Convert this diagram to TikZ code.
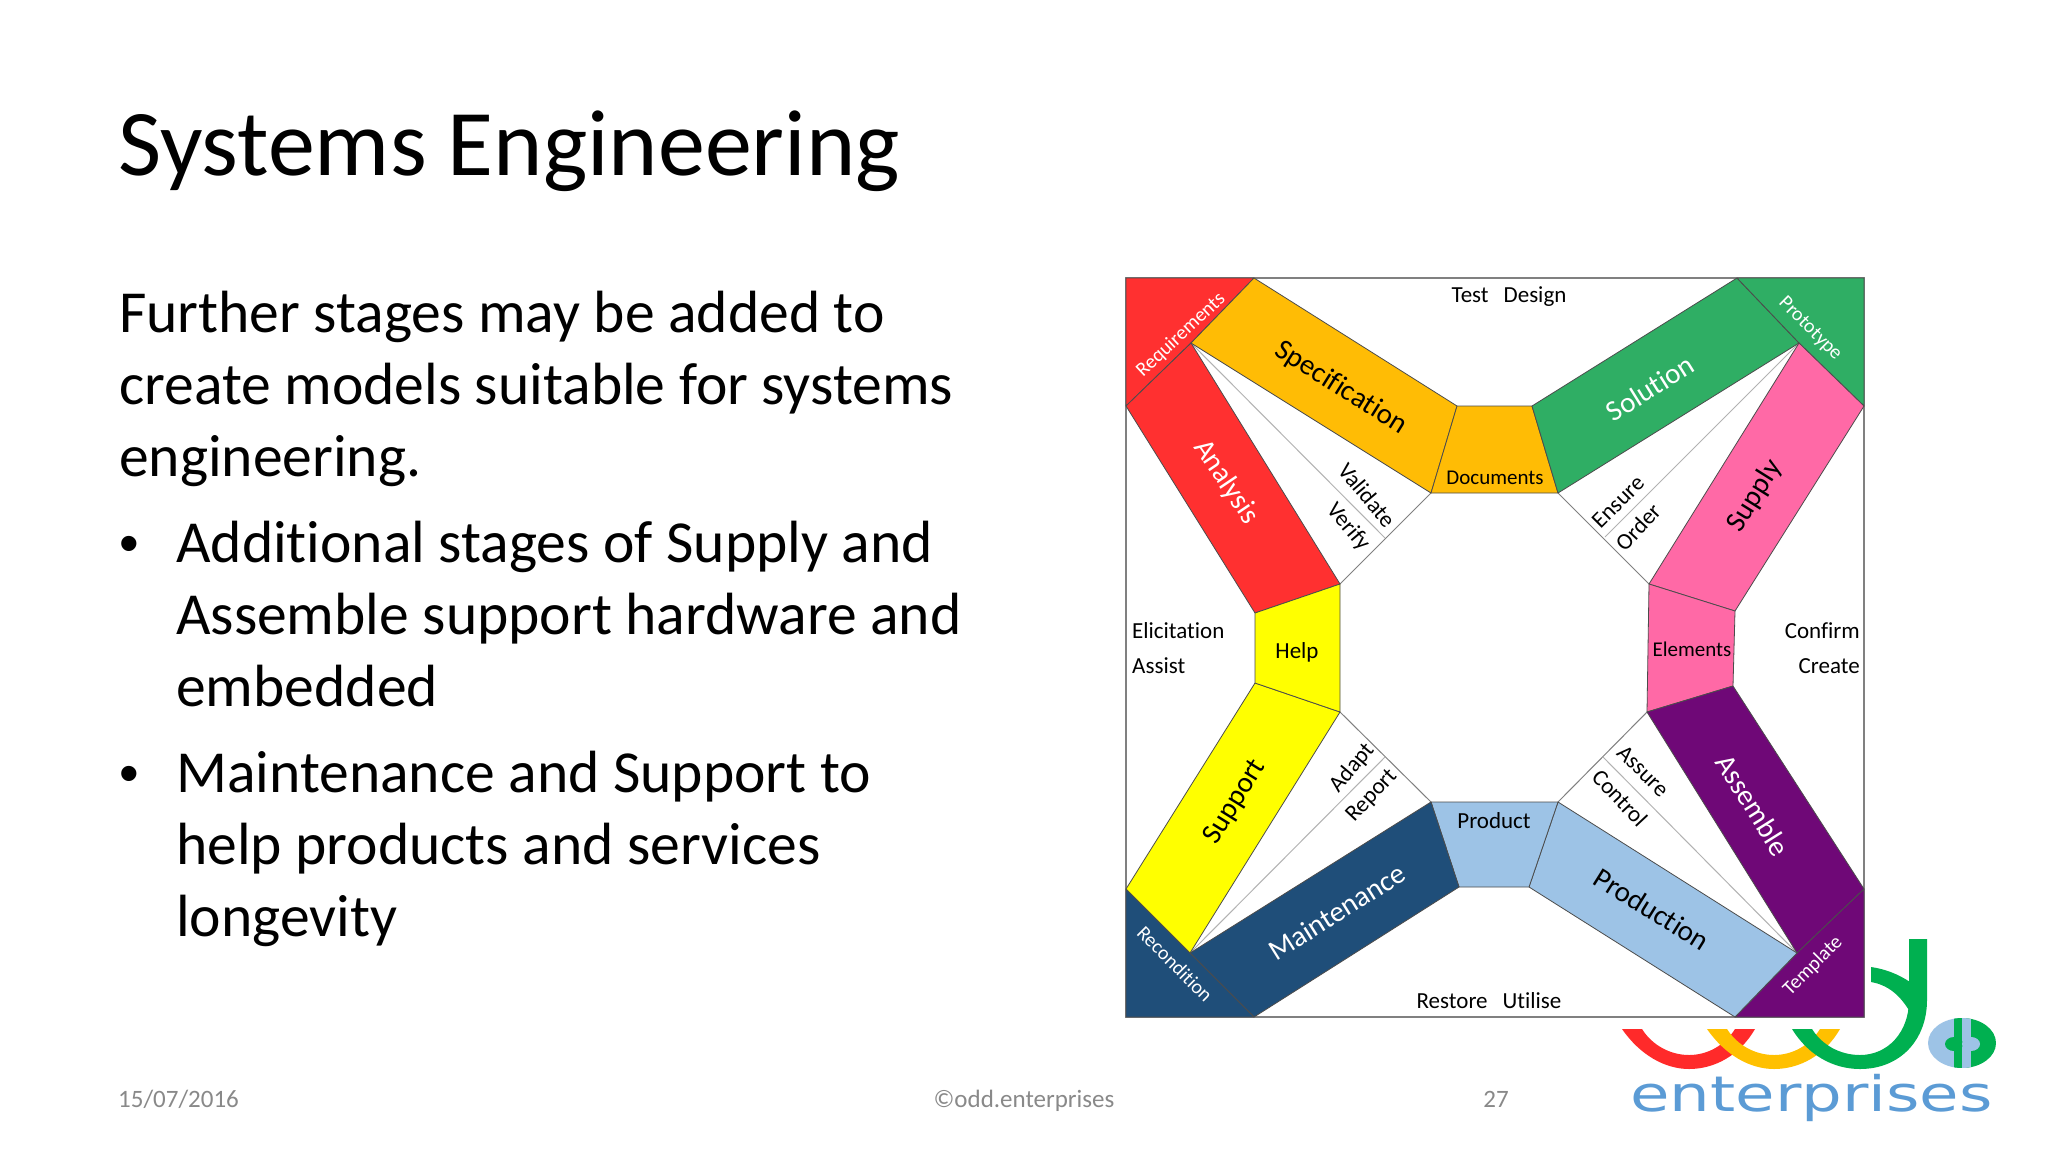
\documentclass[tikz,border=0pt]{standalone}
\usepackage{fontspec}
\setmainfont{Carlito}[Ligatures=NoCommon]
\newfontfamily\logofont{DejaVu Sans}
\newfontfamily\bulletfont{Liberation Sans}
\definecolor{cRed}{HTML}{FF3030}
\definecolor{cOrange}{HTML}{FFBC05}
\definecolor{cGreen}{HTML}{2FAE64}
\definecolor{cPink}{HTML}{FF69A6}
\definecolor{cPurple}{HTML}{6F0877}
\definecolor{cLight}{HTML}{9DC3E6}
\definecolor{cNavy}{HTML}{1F4E79}
\definecolor{cYellow}{HTML}{FFFF00}
\definecolor{cFoot}{HTML}{898989}
\definecolor{cLogoGreen}{HTML}{00B050}
\definecolor{cLogoRed}{HTML}{FF2A2A}
\definecolor{cLogoYellow}{HTML}{FFC000}
\definecolor{cLogoText}{HTML}{5B9BD5}
\tikzset{
  x=1pt,y=-1pt,
  face/.style={draw=black!70,line width=0.8pt,line join=round},
  thin line/.style={draw=black!50,line width=1pt},
  mid line/.style={draw=black!30,line width=1pt},
  big/.style={font=\fontsize{29}{29}\selectfont,inner sep=0pt},
  small/.style={font=\fontsize{23}{23}\selectfont,inner sep=0pt},
  boxed small/.style={font=\fontsize{21}{21}\selectfont,inner sep=0pt},
  tiny label/.style={font=\fontsize{20}{20}\selectfont,inner sep=0pt},
  body/.style={font=\fontsize{59.6}{60}\selectfont,anchor=base west,inner sep=0pt},
  bullet mark/.style={font=\bulletfont\fontsize{56}{56}\selectfont,anchor=center,inner sep=0pt},
  foot/.style={font=\fontsize{25}{25}\selectfont,text=cFoot,inner sep=0pt},
}
\begin{document}
\begin{tikzpicture}
\useasboundingbox (0,0) rectangle (2048,1152);
\fill[white] (0,0) rectangle (2048,1152);
% corners
\coordinate (oTL) at (1126,278); \coordinate (oTR) at (1864,278);
\coordinate (oBR) at (1864,1017); \coordinate (oBL) at (1126,1017);
\coordinate (t1) at (1254,278); \coordinate (t2) at (1737,278);
\coordinate (l1) at (1126,406); \coordinate (l2) at (1126,889);
\coordinate (r1) at (1864,406); \coordinate (r2) at (1864,889);
\coordinate (b1) at (1254,1017); \coordinate (b2) at (1735,1017);
\coordinate (iTL) at (1191,343); \coordinate (iTR) at (1799,343);
\coordinate (iBL) at (1190,953); \coordinate (iBR) at (1797,953);
\coordinate (d1) at (1457,406); \coordinate (d2) at (1532,406);
\coordinate (d3) at (1558,493); \coordinate (d4) at (1431,493);
\coordinate (e1) at (1649,584); \coordinate (e2) at (1735,611);
\coordinate (e3) at (1733,686); \coordinate (e4) at (1647,712);
\coordinate (p1) at (1558,802); \coordinate (p2) at (1529,887);
\coordinate (p3) at (1459,887); \coordinate (p4) at (1431,802);
\coordinate (h1) at (1255,613); \coordinate (h2) at (1340,584);
\coordinate (h3) at (1340,712); \coordinate (h4) at (1255,683);
\coordinate (mTL) at (1385,538); \coordinate (mTR) at (1605,537);
\coordinate (mBL) at (1385,757); \coordinate (mBR) at (1603,757);
% frame
\draw[draw=black!50,line width=1.6pt] (oTL) rectangle (oBR);
% thin triangles
\draw[thin line] (d4) -- (h2);
\draw[thin line] (d3) -- (e1);
\draw[thin line] (h3) -- (p4);
\draw[thin line] (e4) -- (p1);
\draw[mid line] (iTL) -- (mTL);
\draw[mid line] (iTR) -- (mTR);
\draw[mid line] (iBL) -- (mBL);
\draw[mid line] (iBR) -- (mBR);
% faces
\filldraw[face,fill=cRed] (oTL) -- (t1) -- (iTL) -- (l1) -- cycle;
\filldraw[face,fill=cRed] (l1) -- (iTL) -- (h2) -- (h1) -- cycle;
\filldraw[face,fill=cOrange] (t1) -- (d1) -- (d4) -- (iTL) -- cycle;
\filldraw[face,fill=cOrange] (d1) -- (d2) -- (d3) -- (d4) -- cycle;
\filldraw[face,fill=cGreen] (d2) -- (t2) -- (iTR) -- (d3) -- cycle;
\filldraw[face,fill=cGreen] (t2) -- (oTR) -- (r1) -- (iTR) -- cycle;
\filldraw[face,fill=cPink] (iTR) -- (r1) -- (e2) -- (e1) -- cycle;
\filldraw[face,fill=cPink] (e1) -- (e2) -- (e3) -- (e4) -- cycle;
\filldraw[face,fill=cPurple] (e3) -- (r2) -- (iBR) -- (e4) -- cycle;
\filldraw[face,fill=cPurple] (r2) -- (oBR) -- (b2) -- (iBR) -- cycle;
\filldraw[face,fill=cLight] (b2) -- (iBR) -- (p1) -- (p2) -- cycle;
\filldraw[face,fill=cLight] (p1) -- (p2) -- (p3) -- (p4) -- cycle;
\filldraw[face,fill=cNavy] (p4) -- (p3) -- (b1) -- (iBL) -- cycle;
\filldraw[face,fill=cNavy] (l2) -- (iBL) -- (b1) -- (oBL) -- cycle;
\filldraw[face,fill=cYellow] (l2) -- (h4) -- (h3) -- (iBL) -- cycle;
\filldraw[face,fill=cYellow] (h1) -- (h2) -- (h3) -- (h4) -- cycle;
% diagram labels
\node[tiny label,text=white,rotate=43] (nReq) at (1181,335) {Requirements};
\node[big,text=white,rotate=-56] (nAna) at (1226,482) {Analysis};
\node[big,rotate=-32] (nSpec) at (1341,388) {Specification};
\node[boxed small] (nDoc) at (1495,478) {Documents};
\node[big,text=white,rotate=32] (nSol) at (1650,388) {Solution};
\node[tiny label,text=white,rotate=-45] (nPro) at (1810,329) {Prototype};
\node[big,rotate=58] (nSup) at (1755,496) {Supply};
\node[boxed small] (nEle) at (1692,649) {Elements};
\node[big,text=white,rotate=-58] (nAss) at (1753,805) {Assemble};
\node[big,rotate=-32] (nProd) at (1652,909) {Production};
\node[tiny label,text=white,rotate=45] (nTem) at (1813,966) {Template};
\node[small] (nProduct) at (1494,821) {Product};
\node[big,text=white,rotate=32] (nMai) at (1337,912) {Maintenance};
\node[tiny label,text=white,rotate=-45] (nRec) at (1175,964) {Recondition};
\node[big,rotate=58] (nSupp) at (1235,802) {Support};
\node[small] (nHelp) at (1297,652) {Help};
\node[small] (nTD) at (1509,297) {Test\hspace{15pt}Design};
\node[small] (nRU) at (1489,1001) {Restore\hspace{15pt}Utilise};
\node[small,anchor=west] (nEli) at (1132,631) {Elicitation};
\node[small,anchor=west] (nAssist) at (1132,666) {Assist};
\node[small,anchor=east] (nCon) at (1860,631) {Confirm};
\node[small,anchor=east] (nCre) at (1860,666) {Create};
\node[small,rotate=-50] (nVal) at (1367,495) {Validate};
\node[small,rotate=-50] (nVer) at (1348,527) {Verify};
\node[small,rotate=45] (nEns) at (1618,502) {Ensure};
\node[small,rotate=47] (nOrd) at (1638,527) {Order};
\node[small,rotate=50] (nAda) at (1352,768) {Adapt};
\node[small,rotate=47] (nRep) at (1372,796) {Report};
\node[small,rotate=-45] (nAsr) at (1643,771) {Assure};
\node[small,rotate=-47] (nCtl) at (1620,798) {Control};
% slide text
\node[font=\fontsize{94}{94}\selectfont,anchor=base west,inner sep=0pt] (title) at (118,175) {Systems Engineering};
\node[body] (b1l) at (119,332) {Further stages may be added to};
\node[body] (b2l) at (119,404) {create models suitable for systems};
\node[body] (b3l) at (119,476) {engineering.};
\node[bullet mark] (bu1) at (129,549) {•};
\node[body] (b4l) at (176,562) {Additional stages of Supply and};
\node[body] (b5l) at (176,634) {Assemble support hardware and};
\node[body] (b6l) at (176,706) {embedded};
\node[bullet mark] (bu2) at (129,779) {•};
\node[body] (b7l) at (176,792) {Maintenance and Support to};
\node[body] (b8l) at (176,864) {help products and services};
\node[body] (b9l) at (176,936) {longevity};
\node[foot,anchor=base west] (fDate) at (118,1107) {15/07/2016};
\node[foot,anchor=base] (fCopy) at (1024,1107) {©odd.enterprises};
\node[foot,anchor=base] (fNum) at (1496,1107) {27};
% logo
\fill[cLogoRed] (1622,1029) .. controls (1640,1055) and (1665,1069) .. (1689,1069) .. controls (1715,1069) and (1740,1055) .. (1755,1029) -- (1735,1029) .. controls (1725,1045) and (1708,1055) .. (1689,1055) .. controls (1670,1055) and (1652,1045) .. (1642,1029) -- cycle;
\fill[cLogoYellow] (1707,1029) .. controls (1725,1055) and (1750,1069) .. (1774,1069) .. controls (1800,1069) and (1825,1055) .. (1840,1029) -- (1820,1029) .. controls (1810,1045) and (1793,1055) .. (1774,1055) .. controls (1755,1055) and (1737,1045) .. (1727,1029) -- cycle;
\fill[cLogoGreen] (1792,1029) .. controls (1808,1055) and (1833,1069) .. (1860,1069) .. controls (1900,1069) and (1927,1040) .. (1927,1000) -- (1927,939) -- (1909,939) -- (1909,1000) .. controls (1909,1032) and (1888,1055) .. (1860,1055) .. controls (1840,1055) and (1822,1045) .. (1812,1029) -- cycle;
\fill[cLogoGreen] (1871,967) .. controls (1885,969) and (1898,974) .. (1910,982) -- (1910,1012) .. controls (1900,995) and (1888,985) .. (1871,982) -- cycle;
\begin{scope}
\clip (1962,1043) ellipse (34 and 25);
\fill[cLight] (1928,1018) rectangle (1962,1068);
\fill[cLogoGreen] (1962,1018) rectangle (1996,1068);
\fill[cLogoGreen] (1954,1018) rectangle (1962,1068);
\fill[cLight] (1962,1018) rectangle (1971,1068);
\fill[cLogoGreen] (1954,1044) ellipse (9 and 7);
\fill[cLight] (1971,1044) ellipse (9 and 7);
\end{scope}
\node[font=\logofont\fontsize{49}{49}\selectfont,text=cLogoText,anchor=base west,inner sep=0pt] (logoText) at (1630,1111) {\scalebox{1.31}[1]{enterprises}};
\end{tikzpicture}
\end{document}
